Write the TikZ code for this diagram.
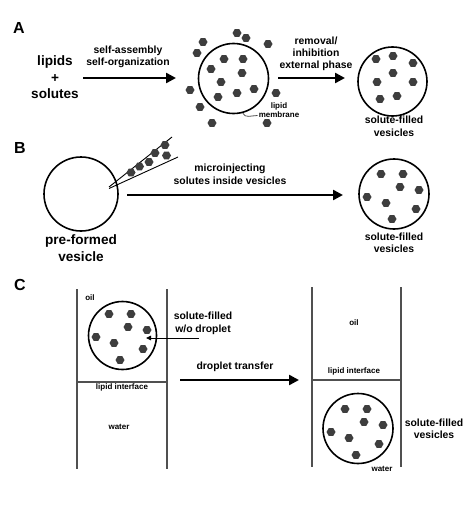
\documentclass[tikz,border=0pt]{standalone}
\usepackage{fontspec}
\setmainfont{Liberation Sans}
\usetikzlibrary{shapes.geometric,arrows.meta}
\definecolor{dotc}{RGB}{62,62,62}
\definecolor{wallc}{RGB}{80,80,80}
\newcommand\fpanel{\fontsize{16}{18}\selectfont\bfseries}
\newcommand\fbig{\fontsize{13.6}{16.5}\selectfont\bfseries}
\newcommand\fmid{\fontsize{10.4}{12.2}\selectfont\bfseries}
\newcommand\fsmall{\fontsize{8}{10}\selectfont\bfseries}
\begin{document}
\begin{tikzpicture}[x=1pt,y=-1pt,
  lbl/.style={inner sep=0pt,align=center},
  vesicle/.style={circle,draw=black,line width=1.6pt,minimum size=70pt,inner sep=0pt},
  dot/.style={regular polygon,regular polygon sides=6,minimum size=9pt,inner sep=0pt,fill=dotc,draw=none},
  bigarrow/.style={line width=2.4pt,-{Triangle[length=10pt,width=10pt]}},
  thinarrow/.style={line width=0.9pt,-{Triangle[length=5pt,width=4.5pt]}},
  wall/.style={draw=wallc,line width=1.5pt},
  pip/.style={draw=black,line width=0.9pt}]
\useasboundingbox[fill=white] (0,0) rectangle (474,524);

% ---------------- Panel A ----------------
\node[lbl,font=\fpanel] (A) at (19,28) {A};
\node[lbl,font=\fbig] (lip) at (55,77.5) {lipids\\+\\solutes};
\node[lbl,font=\fmid] (selfa) at (128,57) {self-assembly\\self-organization};
\coordinate (a1s) at (83,78);
\coordinate (a1e) at (176,78);
\draw[bigarrow] (a1s) -- (a1e);

\node[vesicle] (v1) at (233.5,78.5) {};
\foreach \p [count=\i] in {(224,59),(243,59),(211,69),(242,73),(221,82),(218,97),(237,93),(254,89),
  (237,33),(246,38),(203,42),(268,44),(197,53),(190,90),(200,107),(212,123),(267,123),(276,93)}
  \node[dot] (da\i) at \p {};
\node[lbl,font=\fsmall,text width=50pt,align=center] (lm) at (279,110) {lipid\\[-1.5pt]membrane};
\coordinate (lmend) at (257.5,115.5);
\draw[draw=wallc,line width=0.8pt] (v1.-75) to[out=-70,in=180] (lmend);

\node[lbl,font=\fmid] (remo) at (316,54) {removal/\\inhibition\\external phase};
\coordinate (a2s) at (278,78);
\coordinate (a2e) at (345,78);
\draw[bigarrow] (a2s) -- (a2e);

\node[vesicle,minimum size=69pt] (v2) at (392.5,81.5) {};
\foreach \p [count=\i] in {(376,59),(393,56),(413,63),(393,73),(377,82),(413,82),(380,99),(397,96)}
  \node[dot] (db\i) at \p {};
\node[lbl,font=\fmid] (sfa) at (394,126) {solute-filled\\[1pt]vesicles};

% ---------------- Panel B ----------------
\node[lbl,font=\fpanel] (B) at (20,148) {B};
\node[vesicle,minimum size=74pt] (v3) at (81,194) {};
\node[lbl,font=\fbig] (pre) at (81,248) {pre-formed\\vesicle};
\coordinate (pt1) at (109,187);
\coordinate (pt2) at (172,137);
\coordinate (pt3) at (109,188.5);
\coordinate (pt4) at (178,157);
\draw[pip] (pt1) -- (pt2);
\draw[pip] (pt3) -- (pt4);
\foreach \p [count=\i] in {(131,172.5),(139.5,166.5),(149,162),(155,153),(165,145),(166.5,155.5)}
  \node[dot] (dc\i) at \p {};
\node[lbl,font=\fmid] (micro) at (230,174.5) {microinjecting\\[0.8pt]solutes inside vesicles};
\coordinate (a3s) at (127,195);
\coordinate (a3e) at (343,195);
\draw[bigarrow] (a3s) -- (a3e);

\node[vesicle] (v4) at (394,194) {};
\foreach \p [count=\i] in {(381,174),(403,174),(400,187),(419,190),(367,197),(386,203),(416,209),(392,219)}
  \node[dot] (dd\i) at \p {};
\node[lbl,font=\fmid] (sfb) at (394,243) {solute-filled\\vesicles};

% ---------------- Panel C ----------------
\node[lbl,font=\fpanel] (C) at (20,285) {C};
% left container
\coordinate (l1) at (77,289);
\coordinate (l2) at (77,469);
\coordinate (l3) at (167,289);
\coordinate (l4) at (167,469);
\coordinate (l5) at (77,382);
\coordinate (l6) at (167,382);
\draw[wall] (l1) -- (l2);
\draw[wall] (l3) -- (l4);
\draw[wall] (l5) -- (l6);
\node[lbl,font=\fsmall] (oil1) at (90,298) {oil};
\node[vesicle,minimum size=68pt] (v5) at (122.5,335.5) {};
\foreach \p [count=\i] in {(109,314),(131,314),(128,327),(147,330),(96,337),(114,343),(143,349),(120,360)}
  \node[dot] (de\i) at \p {};
\node[lbl,font=\fsmall] (li1) at (122,387.5) {lipid interface};
\node[lbl,font=\fsmall] (w1) at (119,427) {water};
\node[lbl,font=\fmid] (wo) at (203,323.5) {solute-filled\\[0.8pt]w/o droplet};
\coordinate (a4s) at (199,338);
\coordinate (a4e) at (146,338);
\draw[thinarrow] (a4s) -- (a4e);

\node[lbl,font=\fmid] (dt) at (235,367) {droplet transfer};
\coordinate (a5s) at (180,380);
\coordinate (a5e) at (299,380);
\draw[bigarrow] (a5s) -- (a5e);

% right container
\coordinate (r1) at (312,287);
\coordinate (r2) at (312,467);
\coordinate (r3) at (401,287);
\coordinate (r4) at (401,467);
\coordinate (r5) at (312,380);
\coordinate (r6) at (401,380);
\draw[wall] (r1) -- (r2);
\draw[wall] (r3) -- (r4);
\draw[wall] (r5) -- (r6);
\node[lbl,font=\fsmall] (oil2) at (354,323) {oil};
\node[lbl,font=\fsmall] (li2) at (354,371.5) {lipid interface};
\node[vesicle] (v6) at (358,428.5) {};
\foreach \p [count=\i] in {(345,409),(367,409),(364,422),(383,425),(331,432),(349,438),(379,444),(356,455)}
  \node[dot] (df\i) at \p {};
\node[lbl,font=\fsmall] (w2) at (382,469) {water};
\node[lbl,font=\fmid] (sfc) at (434,429) {solute-filled\\vesicles};
\end{tikzpicture}
\end{document}
